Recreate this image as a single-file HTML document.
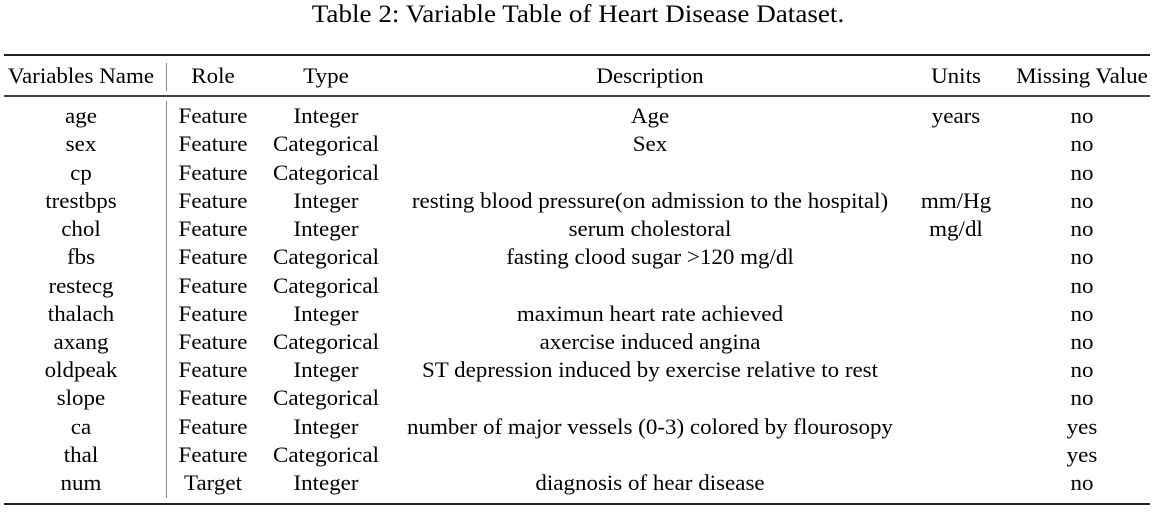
<!DOCTYPE html>
<html>
<head>
<meta charset="utf-8">
<style>
  html, body { margin:0; padding:0; background:#fff; }
  body { width:1165px; height:514px; position:relative; overflow:hidden;
         font-family:"Liberation Serif", "Times New Roman", serif; color:#000; }
  .t { position:absolute; left:578px; top:0px; font-size:25px; line-height:30px; white-space:nowrap;
       transform:translateX(-50%) scaleX(1.084); }
  .rule { position:absolute; left:4px; width:1146px; background:#222; }
  .vl { position:absolute; left:166px; width:1px; background:#888; }
  .r { position:absolute; left:0; width:1165px; height:28px; }
  .c { position:absolute; top:0; font-size:22px; line-height:28px; white-space:nowrap;
       transform:translateX(-50%) scaleX(1.045); }
  .c1 { left:81px; } .c2 { left:213px; } .c3 { left:326px; }
  .c4 { left:650px; } .c5 { left:956px; } .c6 { left:1082px; }
</style>
</head>
<body>
<div class="t">Table 2: Variable Table of Heart Disease Dataset.</div>

<div class="rule" style="top:54px;height:2px;"></div>
<div class="rule" style="top:95px;height:1.5px;background:#444;"></div>
<div class="rule" style="top:503px;height:2px;"></div>
<div class="vl" style="top:63px;height:28px;"></div>
<div class="vl" style="top:101px;height:397px;"></div>

<div class="r" style="top:62px;">
  <span class="c c1">Variables Name</span><span class="c c2">Role</span><span class="c c3">Type</span>
  <span class="c c4">Description</span><span class="c c5">Units</span><span class="c c6">Missing Value</span>
</div>

<div class="r" style="top:102.1px;"><span class="c c1">age</span><span class="c c2">Feature</span><span class="c c3">Integer</span><span class="c c4">Age</span><span class="c c5">years</span><span class="c c6">no</span></div>
<div class="r" style="top:130.3px;"><span class="c c1">sex</span><span class="c c2">Feature</span><span class="c c3">Categorical</span><span class="c c4">Sex</span><span class="c c6">no</span></div>
<div class="r" style="top:158.6px;"><span class="c c1">cp</span><span class="c c2">Feature</span><span class="c c3">Categorical</span><span class="c c6">no</span></div>
<div class="r" style="top:186.8px;"><span class="c c1">trestbps</span><span class="c c2">Feature</span><span class="c c3">Integer</span><span class="c c4">resting blood pressure(on admission to the hospital)</span><span class="c c5">mm/Hg</span><span class="c c6">no</span></div>
<div class="r" style="top:215.0px;"><span class="c c1">chol</span><span class="c c2">Feature</span><span class="c c3">Integer</span><span class="c c4">serum cholestoral</span><span class="c c5">mg/dl</span><span class="c c6">no</span></div>
<div class="r" style="top:243.3px;"><span class="c c1">fbs</span><span class="c c2">Feature</span><span class="c c3">Categorical</span><span class="c c4">fasting clood sugar &gt;120 mg/dl</span><span class="c c6">no</span></div>
<div class="r" style="top:271.5px;"><span class="c c1">restecg</span><span class="c c2">Feature</span><span class="c c3">Categorical</span><span class="c c6">no</span></div>
<div class="r" style="top:299.7px;"><span class="c c1">thalach</span><span class="c c2">Feature</span><span class="c c3">Integer</span><span class="c c4">maximun heart rate achieved</span><span class="c c6">no</span></div>
<div class="r" style="top:327.9px;"><span class="c c1">axang</span><span class="c c2">Feature</span><span class="c c3">Categorical</span><span class="c c4">axercise induced angina</span><span class="c c6">no</span></div>
<div class="r" style="top:356.2px;"><span class="c c1">oldpeak</span><span class="c c2">Feature</span><span class="c c3">Integer</span><span class="c c4">ST depression induced by exercise relative to rest</span><span class="c c6">no</span></div>
<div class="r" style="top:384.4px;"><span class="c c1">slope</span><span class="c c2">Feature</span><span class="c c3">Categorical</span><span class="c c6">no</span></div>
<div class="r" style="top:412.6px;"><span class="c c1">ca</span><span class="c c2">Feature</span><span class="c c3">Integer</span><span class="c c4">number of major vessels (0-3) colored by flourosopy</span><span class="c c6">yes</span></div>
<div class="r" style="top:440.9px;"><span class="c c1">thal</span><span class="c c2">Feature</span><span class="c c3">Categorical</span><span class="c c6">yes</span></div>
<div class="r" style="top:469.1px;"><span class="c c1">num</span><span class="c c2">Target</span><span class="c c3">Integer</span><span class="c c4">diagnosis of hear disease</span><span class="c c6">no</span></div>
</body>
</html>
